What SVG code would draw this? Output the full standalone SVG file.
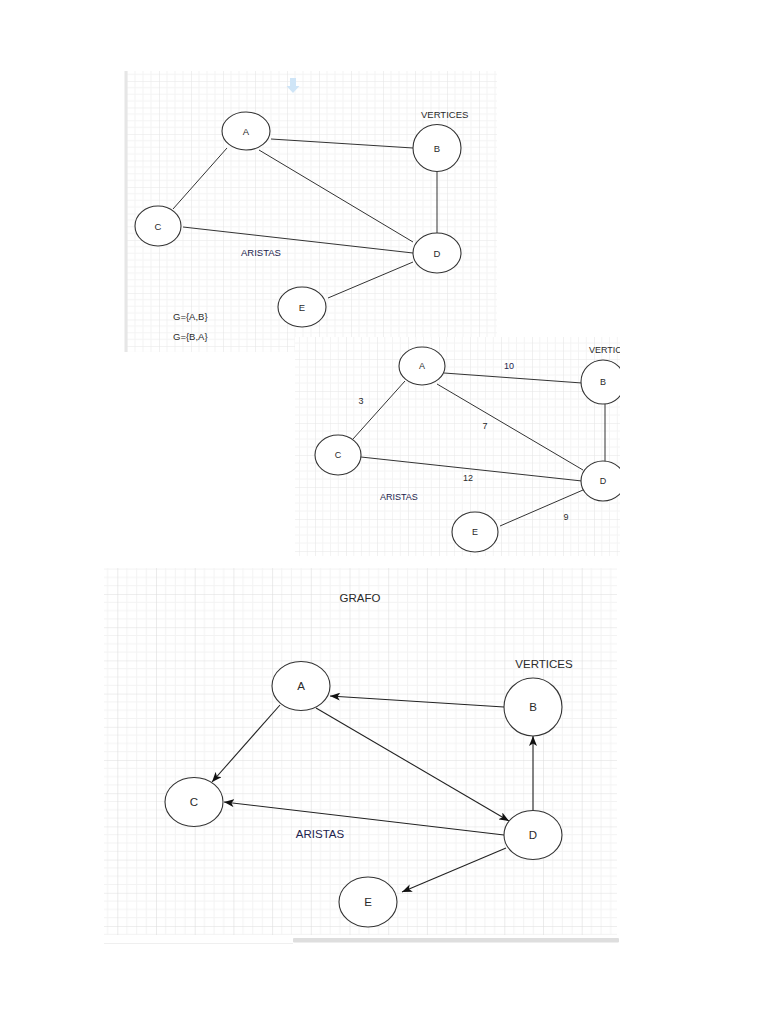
<svg xmlns="http://www.w3.org/2000/svg" width="768" height="1024" viewBox="0 0 768 1024">
  <defs>
    <pattern id="grid1" patternUnits="userSpaceOnUse" x="159" y="81" width="32" height="26.5">
      <path d="M8 0V26.5M16 0V26.5M24 0V26.5M0 6.6H32M0 13.25H32M0 19.9H32" stroke="#f4f4f4" stroke-width="1" fill="none"/>
      <path d="M0 0V26.5M0 0H32" stroke="#e6e6e6" stroke-width="1.2" fill="none"/>
    </pattern>
    <pattern id="grid2" patternUnits="userSpaceOnUse" x="315" y="359" width="31" height="32">
      <path d="M7.75 0V32M15.5 0V32M23.25 0V32M0 8H31M0 16H31M0 24H31" stroke="#f4f4f4" stroke-width="1" fill="none"/>
      <path d="M0 0V32M0 0H31" stroke="#e6e6e6" stroke-width="1.2" fill="none"/>
    </pattern>
    <pattern id="grid3" patternUnits="userSpaceOnUse" x="156" y="594" width="38.7" height="33.2">
      <path d="M9.7 0V33.2M19.35 0V33.2M29 0V33.2M0 8.3H38.7M0 16.6H38.7M0 24.9H38.7" stroke="#f3f3f3" stroke-width="1" fill="none"/>
      <path d="M0 0V33.2M0 0H38.7" stroke="#dedede" stroke-width="1.2" fill="none"/>
    </pattern>
    <clipPath id="clip2"><rect x="295" y="337" width="325" height="219"/></clipPath>
    <marker id="arrow" viewBox="0 0 10 8" refX="10" refY="4" markerWidth="10" markerHeight="8" markerUnits="userSpaceOnUse" orient="auto">
      <path d="M0 0L10 4L0 8L2.5 4Z" fill="#111"/>
    </marker>
    <style>
      .node { fill: #ffffff; stroke: #333333; stroke-width: 1.1; }
      .edge { stroke: #333333; stroke-width: 1; fill: none; }
      .arr { stroke: #222222; stroke-width: 1.1; fill: none; marker-end: url(#arrow); }
      .t1 { font-family: "Liberation Sans", Arial, sans-serif; font-size: 9.5px; fill: #2a2a2a; }
      .t2 { font-family: "Liberation Sans", Arial, sans-serif; font-size: 9px; fill: #2a2a2a; }
      .t3 { font-family: "Liberation Sans", Arial, sans-serif; font-size: 11.5px; fill: #2a2a2a; }
      .lbl { text-anchor: middle; }
      .blue { fill: #23234d; }
    </style>
  </defs>

  <rect width="768" height="1024" fill="#ffffff"/>

  <!-- Panel 1 -->
  <g id="panel1">
    <rect x="125" y="71" width="372" height="281" fill="url(#grid1)"/>
    <rect x="124.5" y="71" width="2.5" height="281" fill="#e6e6e6"/>
    <path d="M290 78h6v8h3.5l-6.5 7-6.5-7h3.5z" fill="#cfe5f7"/>
    <g id="p1-connectors">
      <line class="edge" x1="271" y1="139" x2="413" y2="148"/>
      <line class="edge" x1="259" y1="150" x2="413" y2="242"/>
      <line class="edge" x1="227" y1="148" x2="173" y2="209"/>
      <line class="edge" x1="183" y1="227" x2="413" y2="253"/>
      <line class="edge" x1="437" y1="171" x2="437" y2="233"/>
      <line class="edge" x1="413" y1="262" x2="328" y2="298"/>
    </g>
    <g id="p1-A"><ellipse class="node" cx="246" cy="131" rx="24" ry="19"/><text class="t1 lbl" x="246" y="134.5">A</text></g>
    <g id="p1-B"><ellipse class="node" cx="437" cy="148" rx="24" ry="23.5"/><text class="t1 lbl" x="437" y="151.5">B</text></g>
    <g id="p1-C"><ellipse class="node" cx="158" cy="226" rx="23" ry="20"/><text class="t1 lbl" x="158" y="229.5">C</text></g>
    <g id="p1-D"><ellipse class="node" cx="437" cy="253" rx="24" ry="20"/><text class="t1 lbl" x="437" y="256.5">D</text></g>
    <g id="p1-E"><ellipse class="node" cx="302" cy="307" rx="24" ry="20"/><text class="t1 lbl" x="302" y="310.5">E</text></g>
    <text class="t1" x="421" y="118">VERTICES</text>
    <text class="t1 blue" x="241" y="256">ARISTAS</text>
    <text class="t1" x="173" y="320">G={A,B}</text>
    <text class="t1" x="173" y="340">G={B,A}</text>
  </g>

  <!-- Panel 2 -->
  <g id="panel2" clip-path="url(#clip2)">
    <rect x="295" y="337" width="325" height="219" fill="#ffffff"/>
    <rect x="295" y="337" width="325" height="219" fill="url(#grid2)"/>
    <g id="p2-connectors">
      <line class="edge" x1="444" y1="373" x2="582" y2="383"/>
      <line class="edge" x1="405" y1="381" x2="353" y2="439"/>
      <line class="edge" x1="437" y1="384" x2="583" y2="470"/>
      <line class="edge" x1="361" y1="457" x2="582" y2="481"/>
      <line class="edge" x1="605" y1="404" x2="605" y2="462"/>
      <line class="edge" x1="583" y1="490" x2="500" y2="526"/>
    </g>
    <g id="p2-A"><ellipse class="node" cx="422" cy="366" rx="23" ry="19"/><text class="t2 lbl" x="422" y="369">A</text></g>
    <g id="p2-B"><ellipse class="node" cx="603" cy="382" rx="22" ry="22"/><text class="t2 lbl" x="603" y="385">B</text></g>
    <g id="p2-C"><ellipse class="node" cx="338" cy="455" rx="23" ry="20"/><text class="t2 lbl" x="338" y="458">C</text></g>
    <g id="p2-D"><ellipse class="node" cx="603" cy="481" rx="22" ry="20"/><text class="t2 lbl" x="603" y="484">D</text></g>
    <g id="p2-E"><ellipse class="node" cx="475" cy="532" rx="23" ry="20"/><text class="t2 lbl" x="475" y="535">E</text></g>
    <text class="t2" x="589" y="353">VERTICES</text>
    <text class="t2 blue" x="380" y="500">ARISTAS</text>
    <text class="t2 blue lbl" x="509" y="369">10</text>
    <text class="t2 lbl" x="361" y="404">3</text>
    <text class="t2 lbl" x="485" y="429">7</text>
    <text class="t2 lbl" x="468" y="481">12</text>
    <text class="t2 lbl" x="566" y="520">9</text>
  </g>

  <!-- Panel 3 -->
  <g id="panel3">
    <rect x="104" y="568" width="513" height="367" fill="url(#grid3)"/>
    <rect x="293" y="938" width="326" height="4.5" rx="1" fill="#dedede"/>
    <line x1="104" y1="943.5" x2="293" y2="943.5" stroke="#efefef" stroke-width="1"/>
    <text class="t3 lbl" x="360" y="602">GRAFO</text>
    <text class="t3 lbl" x="544" y="668">VERTICES</text>
    <text class="t3 blue lbl" x="320" y="838">ARISTAS</text>
    <g id="p3-connectors">
      <line class="arr" x1="504" y1="707" x2="330" y2="696"/>
      <line class="arr" x1="280" y1="705" x2="212" y2="782"/>
      <line class="arr" x1="316" y1="708" x2="509" y2="821"/>
      <line class="arr" x1="504" y1="835" x2="224" y2="802"/>
      <line class="arr" x1="533" y1="811" x2="533" y2="736"/>
      <line class="arr" x1="506" y1="848" x2="402" y2="892"/>
    </g>
    <g id="p3-A"><ellipse class="node" cx="301" cy="686" rx="29" ry="24.5"/><text class="t3 lbl" x="301" y="690">A</text></g>
    <g id="p3-B"><ellipse class="node" cx="533" cy="707" rx="29" ry="29"/><text class="t3 lbl" x="533" y="711">B</text></g>
    <g id="p3-C"><ellipse class="node" cx="194" cy="802" rx="29" ry="24.5"/><text class="t3 lbl" x="194" y="806">C</text></g>
    <g id="p3-D"><ellipse class="node" cx="533" cy="835" rx="29" ry="24.5"/><text class="t3 lbl" x="533" y="839">D</text></g>
    <g id="p3-E"><ellipse class="node" cx="368" cy="902" rx="29" ry="25"/><text class="t3 lbl" x="368" y="906">E</text></g>
  </g>
</svg>
